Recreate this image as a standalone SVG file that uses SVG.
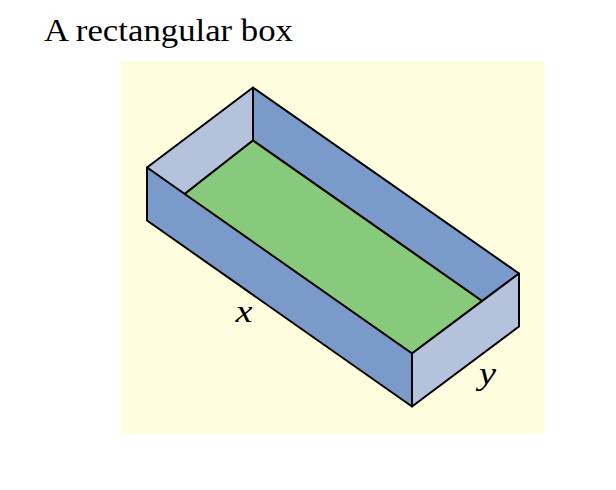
<svg xmlns="http://www.w3.org/2000/svg" width="616" height="490" viewBox="0 0 616 490">
<style>
.e{stroke:#000;stroke-width:2;stroke-linejoin:round;stroke-linecap:round}
.d{fill:#7a9bc9}.l{fill:#b4c2dc}.g{fill:#88ca7b}
text{font-family:"Liberation Serif","Times New Roman",serif;fill:#000}
.m{font-style:italic;font-size:31px}
</style>
<rect id="background" x="120.5" y="61" width="425" height="373" fill="#ffffe0"/>
<text id="title" x="44" y="41" font-size="31px" textLength="249" lengthAdjust="spacingAndGlyphs">A rectangular box</text>
<g id="box" transform="translate(0 .5)">
<polygon id="back-end" class="l e" points="147,167 253,87 253,140 184,194"/>
<polygon id="back-side" class="d e" points="253,87 519,273 482,300.5 253,140"/>
<polygon id="floor" class="g e" points="253,140 482,300.5 412,353 184,194"/>
<polygon id="front-side" class="d e" points="147,167 412,353 412,406 147,220"/>
<polygon id="front-end" class="l e" points="412,353 519,273 519,326 412,406"/>
</g>
<text id="label-x" class="m" x="235.500" y="322" textLength="17" lengthAdjust="spacingAndGlyphs">x</text>
<text id="label-y" class="m" x="479" y="384" textLength="17" lengthAdjust="spacingAndGlyphs">y</text>
</svg>
